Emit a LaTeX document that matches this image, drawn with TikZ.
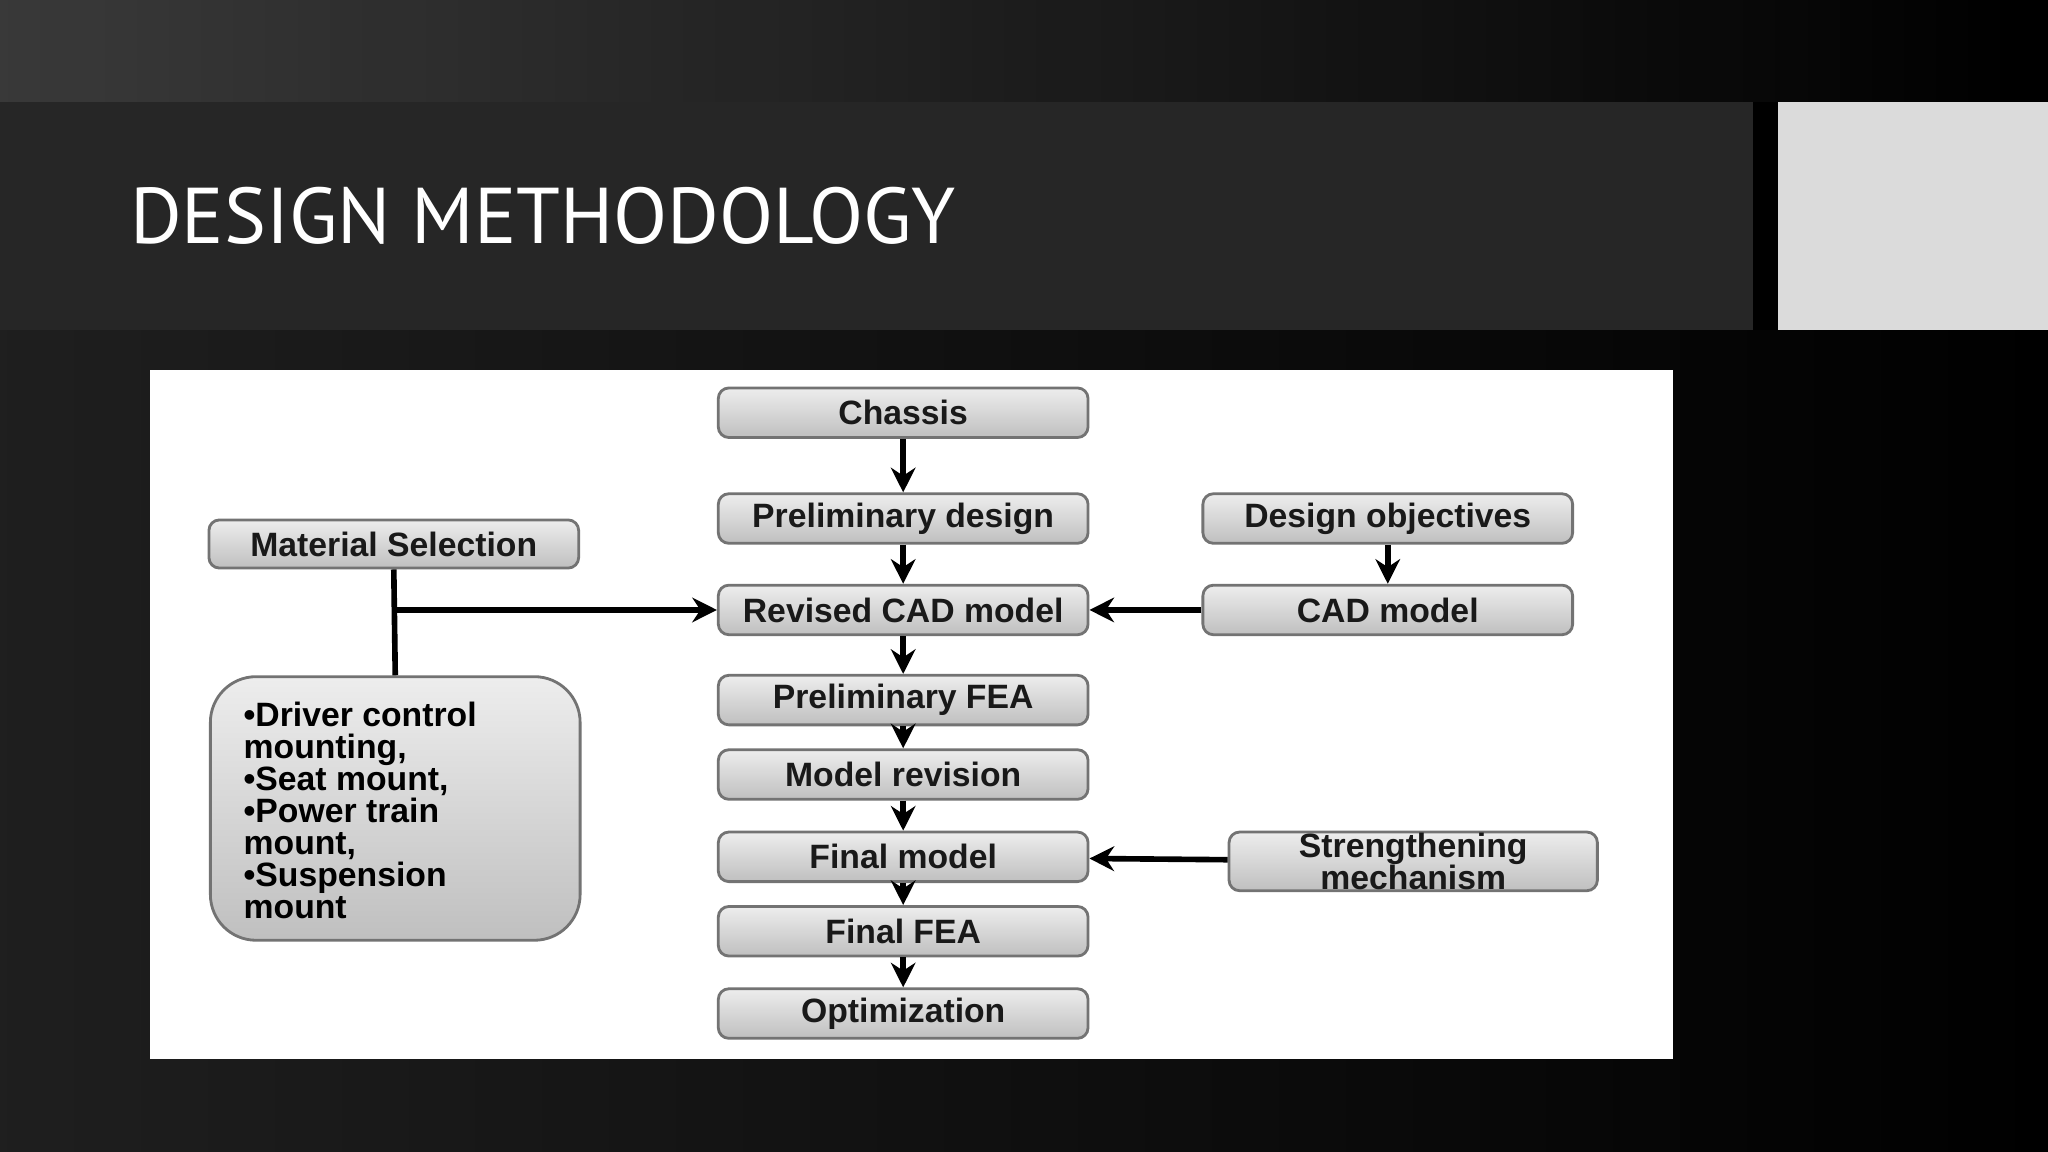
\documentclass[tikz,border=0pt]{standalone}
\usepackage{fontspec}
\setmainfont{Liberation Sans}
\newfontfamily\titlefont{PT Sans}
\usetikzlibrary{arrows.meta}
\begin{document}
\begin{tikzpicture}[x=0.013061cm,y=0.013061cm,
  bx/.style={draw=black!55,line width=0.8pt,rounded corners=3pt,top color=black!7,bottom color=black!25,
    font=\fontsize{9.6}{10}\selectfont\bfseries,text=black!90,inner sep=0pt,minimum width=105.2pt,minimum height=14.1pt},
  ar/.style={line width=1.6pt,-{Stealth[length=7pt,width=7pt]}},
  ln/.style={line width=1.6pt}]
\useasboundingbox (0,0) rectangle (1568,-882);
\fill[black!4!black] (0,0) rectangle (1568,-882);
\shade[left color=black!75,right color=black,opacity=0.9] (0,0) rectangle (1568,-78);
\shade[left color=black!88,right color=black] (0,-253) rectangle (1568,-882);
\fill[black!85] (0,-78) rectangle (1342,-253);
\fill[black!14] (1361,-78) rectangle (1568,-253);
\node[anchor=west,text=white,font=\titlefont\fontsize{22.5}{27}\selectfont,inner sep=0pt] (title) at (99,-165) {DESIGN METHODOLOGY};
\fill[white] (115,-283) rectangle (1281,-811);
\foreach \n/\y/\t in {ch/316/Chassis,pd/397/Preliminary design,rc/467/Revised CAD model,pf/536/Preliminary FEA,mr/593/Model revision,fm/656/Final model,ff/713/Final FEA,op/776/Optimization}
  \node[bx] (\n) at (691.5,-\y) {\t};
\node[bx] (do) at (1062.5,-397) {Design objectives};
\node[bx] (cad) at (1062.5,-467) {CAD model};
\node[bx,minimum height=13.7pt] (ms) at (301.5,-416.5) {Material Selection};
\node[bx,minimum width=104.8pt,minimum height=16.7pt,align=center,font=\fontsize{9.6}{9}\selectfont\bfseries] (sm) at (1082,-659.5) {Strengthening\\mechanism};
\node[bx,rounded corners=13pt,minimum width=105.2pt,minimum height=75pt,anchor=north west] (lst) at (160,-517) {};
\node[anchor=north west,align=left,font=\fontsize{9.6}{9.1}\selectfont\bfseries,inner sep=0pt] (lt) at (186,-537) {•Driver control\\mounting,\\•Seat mount,\\•Power train\\mount,\\•Suspension\\mount};
\draw[ar] (ch) -- (pd);
\draw[ar] (pd) -- (rc);
\draw[ar] (rc) -- (pf);
\draw[ar] (pf) -- (mr);
\draw[ar] (mr) -- (fm);
\draw[ar] (fm) -- (ff);
\draw[ar] (ff) -- (op);
\draw[ar] (do) -- (cad);
\draw[ar] (cad) -- (rc);
\draw[ar] (sm) -- (fm);
\coordinate (j) at (301.5,-467);
\draw[ln] (ms.south) -- (lst.north);
\draw[ar] (j) -- (rc);
\end{tikzpicture}
\end{document}
